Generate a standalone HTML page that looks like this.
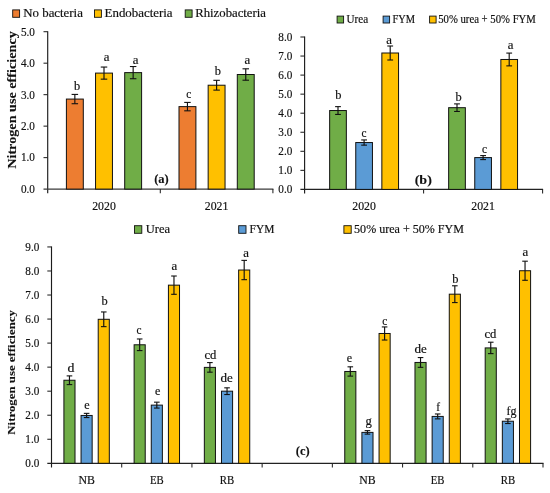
<!DOCTYPE html>
<html><head><meta charset="utf-8"><title>Nitrogen use efficiency</title>
<style>html,body{margin:0;padding:0;background:#fff}svg{display:block}</style></head>
<body>
<svg width="550" height="493" viewBox="0 0 550 493" font-family="'Liberation Serif', serif" font-size="11.6" fill="#111" stroke="#111" stroke-width="0.18">
<rect width="550" height="493" fill="#fff" stroke="none"/>
<line x1="47.70" y1="31.20" x2="47.70" y2="193.30" stroke="#1c1c1c" stroke-width="1.15"/>
<line x1="43.50" y1="189.10" x2="273.40" y2="189.10" stroke="#3a3a3a" stroke-width="1.15"/>
<text x="20.9" y="192.9" font-size="12.9" textLength="14.0" lengthAdjust="spacingAndGlyphs">0.0</text>
<line x1="43.50" y1="157.62" x2="47.70" y2="157.62" stroke="#222" stroke-width="1.05"/>
<text x="20.9" y="161.4" font-size="12.9" textLength="14.0" lengthAdjust="spacingAndGlyphs">1.0</text>
<line x1="43.50" y1="126.14" x2="47.70" y2="126.14" stroke="#222" stroke-width="1.05"/>
<text x="20.9" y="129.9" font-size="12.9" textLength="14.0" lengthAdjust="spacingAndGlyphs">2.0</text>
<line x1="43.50" y1="94.66" x2="47.70" y2="94.66" stroke="#222" stroke-width="1.05"/>
<text x="20.9" y="98.5" font-size="12.9" textLength="14.0" lengthAdjust="spacingAndGlyphs">3.0</text>
<line x1="43.50" y1="63.18" x2="47.70" y2="63.18" stroke="#222" stroke-width="1.05"/>
<text x="20.9" y="67.0" font-size="12.9" textLength="14.0" lengthAdjust="spacingAndGlyphs">4.0</text>
<line x1="43.50" y1="31.70" x2="47.70" y2="31.70" stroke="#222" stroke-width="1.05"/>
<text x="20.9" y="35.5" font-size="12.9" textLength="14.0" lengthAdjust="spacingAndGlyphs">5.0</text>
<line x1="160.30" y1="189.10" x2="160.30" y2="193.30" stroke="#222" stroke-width="1.05"/>
<line x1="272.90" y1="189.10" x2="272.90" y2="193.30" stroke="#222" stroke-width="1.05"/>
<rect x="66.40" y="99.07" width="16.90" height="90.03" fill="#ED7D31" stroke="#111" stroke-width="1.0"/>
<line x1="74.85" y1="94.42" x2="74.85" y2="103.72" stroke="#111" stroke-width="1.15"/>
<line x1="71.60" y1="94.42" x2="78.10" y2="94.42" stroke="#111" stroke-width="1.1"/>
<line x1="71.60" y1="103.72" x2="78.10" y2="103.72" stroke="#111" stroke-width="1.1"/>
<text x="74.1" y="89.5" textLength="6.2" lengthAdjust="spacingAndGlyphs">b</text>
<rect x="95.55" y="73.10" width="16.90" height="116.00" fill="#FFC000" stroke="#111" stroke-width="1.0"/>
<line x1="104.00" y1="67.05" x2="104.00" y2="79.15" stroke="#111" stroke-width="1.15"/>
<line x1="100.75" y1="67.05" x2="107.25" y2="67.05" stroke="#111" stroke-width="1.1"/>
<line x1="100.75" y1="79.15" x2="107.25" y2="79.15" stroke="#111" stroke-width="1.1"/>
<text x="103.7" y="60.5" textLength="5.7" lengthAdjust="spacingAndGlyphs">a</text>
<rect x="124.70" y="72.62" width="16.90" height="116.48" fill="#70AD47" stroke="#111" stroke-width="1.0"/>
<line x1="133.15" y1="66.52" x2="133.15" y2="78.72" stroke="#111" stroke-width="1.15"/>
<line x1="129.90" y1="66.52" x2="136.40" y2="66.52" stroke="#111" stroke-width="1.1"/>
<line x1="129.90" y1="78.72" x2="136.40" y2="78.72" stroke="#111" stroke-width="1.1"/>
<text x="132.7" y="64.0" textLength="5.7" lengthAdjust="spacingAndGlyphs">a</text>
<text x="92.2" y="210.0" font-size="12.0" textLength="23.6" lengthAdjust="spacingAndGlyphs">2020</text>
<rect x="179.00" y="106.62" width="16.90" height="82.48" fill="#ED7D31" stroke="#111" stroke-width="1.0"/>
<line x1="187.45" y1="102.42" x2="187.45" y2="110.82" stroke="#111" stroke-width="1.15"/>
<line x1="184.20" y1="102.42" x2="190.70" y2="102.42" stroke="#111" stroke-width="1.1"/>
<line x1="184.20" y1="110.82" x2="190.70" y2="110.82" stroke="#111" stroke-width="1.1"/>
<text x="186.3" y="97.8" textLength="5.0" lengthAdjust="spacingAndGlyphs">c</text>
<rect x="208.15" y="85.22" width="16.90" height="103.88" fill="#FFC000" stroke="#111" stroke-width="1.0"/>
<line x1="216.60" y1="80.32" x2="216.60" y2="90.12" stroke="#111" stroke-width="1.15"/>
<line x1="213.35" y1="80.32" x2="219.85" y2="80.32" stroke="#111" stroke-width="1.1"/>
<line x1="213.35" y1="90.12" x2="219.85" y2="90.12" stroke="#111" stroke-width="1.1"/>
<text x="214.8" y="74.5" textLength="6.2" lengthAdjust="spacingAndGlyphs">b</text>
<rect x="237.30" y="74.51" width="16.90" height="114.59" fill="#70AD47" stroke="#111" stroke-width="1.0"/>
<line x1="245.75" y1="68.81" x2="245.75" y2="80.21" stroke="#111" stroke-width="1.15"/>
<line x1="242.50" y1="68.81" x2="249.00" y2="68.81" stroke="#111" stroke-width="1.1"/>
<line x1="242.50" y1="80.21" x2="249.00" y2="80.21" stroke="#111" stroke-width="1.1"/>
<text x="244.5" y="63.5" textLength="5.7" lengthAdjust="spacingAndGlyphs">a</text>
<text x="204.8" y="210.0" font-size="12.0" textLength="23.6" lengthAdjust="spacingAndGlyphs">2021</text>
<rect x="12.70" y="9.90" width="6.90" height="7.40" fill="#ED7D31" stroke="#111" stroke-width="0.9"/>
<text x="23.3" y="17.3" textLength="59.6" lengthAdjust="spacingAndGlyphs">No bacteria</text>
<rect x="94.50" y="9.90" width="6.90" height="7.40" fill="#FFC000" stroke="#111" stroke-width="0.9"/>
<text x="104.6" y="17.3" textLength="68.0" lengthAdjust="spacingAndGlyphs">Endobacteria</text>
<rect x="185.20" y="9.90" width="6.90" height="7.40" fill="#70AD47" stroke="#111" stroke-width="0.9"/>
<text x="195.2" y="17.3" textLength="70.8" lengthAdjust="spacingAndGlyphs">Rhizobacteria</text>
<text x="16.4" y="100.0" font-size="13" text-anchor="middle" font-weight="bold" stroke-width="0.1" textLength="137.6" lengthAdjust="spacingAndGlyphs" transform="rotate(-90 16.4 100.0)">Nitrogen use efficiency</text>
<text x="154.2" y="183.2" font-size="13" font-weight="bold" stroke-width="0.1" textLength="14.6" lengthAdjust="spacingAndGlyphs">(a)</text>
<line x1="304.60" y1="36.50" x2="304.60" y2="193.60" stroke="#1c1c1c" stroke-width="1.15"/>
<line x1="300.40" y1="189.40" x2="543.10" y2="189.40" stroke="#222" stroke-width="1.15"/>
<text x="278.3" y="193.1" font-size="12.9" textLength="14.0" lengthAdjust="spacingAndGlyphs">0.0</text>
<line x1="300.40" y1="170.35" x2="304.60" y2="170.35" stroke="#222" stroke-width="1.05"/>
<text x="278.3" y="174.0" font-size="12.9" textLength="14.0" lengthAdjust="spacingAndGlyphs">1.0</text>
<line x1="300.40" y1="151.30" x2="304.60" y2="151.30" stroke="#222" stroke-width="1.05"/>
<text x="278.3" y="155.0" font-size="12.9" textLength="14.0" lengthAdjust="spacingAndGlyphs">2.0</text>
<line x1="300.40" y1="132.25" x2="304.60" y2="132.25" stroke="#222" stroke-width="1.05"/>
<text x="278.3" y="135.9" font-size="12.9" textLength="14.0" lengthAdjust="spacingAndGlyphs">3.0</text>
<line x1="300.40" y1="113.20" x2="304.60" y2="113.20" stroke="#222" stroke-width="1.05"/>
<text x="278.3" y="116.9" font-size="12.9" textLength="14.0" lengthAdjust="spacingAndGlyphs">4.0</text>
<line x1="300.40" y1="94.15" x2="304.60" y2="94.15" stroke="#222" stroke-width="1.05"/>
<text x="278.3" y="97.9" font-size="12.9" textLength="14.0" lengthAdjust="spacingAndGlyphs">5.0</text>
<line x1="300.40" y1="75.10" x2="304.60" y2="75.10" stroke="#222" stroke-width="1.05"/>
<text x="278.3" y="78.8" font-size="12.9" textLength="14.0" lengthAdjust="spacingAndGlyphs">6.0</text>
<line x1="300.40" y1="56.05" x2="304.60" y2="56.05" stroke="#222" stroke-width="1.05"/>
<text x="278.3" y="59.8" font-size="12.9" textLength="14.0" lengthAdjust="spacingAndGlyphs">7.0</text>
<line x1="300.40" y1="37.00" x2="304.60" y2="37.00" stroke="#222" stroke-width="1.05"/>
<text x="278.3" y="40.7" font-size="12.9" textLength="14.0" lengthAdjust="spacingAndGlyphs">8.0</text>
<line x1="423.60" y1="189.40" x2="423.60" y2="193.60" stroke="#222" stroke-width="1.05"/>
<line x1="542.60" y1="189.40" x2="542.60" y2="193.60" stroke="#222" stroke-width="1.05"/>
<rect x="329.65" y="110.53" width="16.70" height="78.87" fill="#70AD47" stroke="#111" stroke-width="1.0"/>
<line x1="338.00" y1="106.63" x2="338.00" y2="114.43" stroke="#111" stroke-width="1.15"/>
<line x1="335.10" y1="106.63" x2="340.90" y2="106.63" stroke="#111" stroke-width="1.1"/>
<line x1="335.10" y1="114.43" x2="340.90" y2="114.43" stroke="#111" stroke-width="1.1"/>
<text x="335.3" y="99.3" textLength="6.2" lengthAdjust="spacingAndGlyphs">b</text>
<rect x="355.75" y="142.54" width="16.70" height="46.86" fill="#5B9BD5" stroke="#111" stroke-width="1.0"/>
<line x1="364.10" y1="139.94" x2="364.10" y2="145.14" stroke="#111" stroke-width="1.15"/>
<line x1="361.20" y1="139.94" x2="367.00" y2="139.94" stroke="#111" stroke-width="1.1"/>
<line x1="361.20" y1="145.14" x2="367.00" y2="145.14" stroke="#111" stroke-width="1.1"/>
<text x="361.4" y="136.6" textLength="5.0" lengthAdjust="spacingAndGlyphs">c</text>
<rect x="381.85" y="53.00" width="16.70" height="136.40" fill="#FFC000" stroke="#111" stroke-width="1.0"/>
<line x1="390.20" y1="46.00" x2="390.20" y2="60.00" stroke="#111" stroke-width="1.15"/>
<line x1="387.30" y1="46.00" x2="393.10" y2="46.00" stroke="#111" stroke-width="1.1"/>
<line x1="387.30" y1="60.00" x2="393.10" y2="60.00" stroke="#111" stroke-width="1.1"/>
<text x="386.2" y="44.4" textLength="5.7" lengthAdjust="spacingAndGlyphs">a</text>
<text x="352.3" y="210.0" font-size="12.0" textLength="23.6" lengthAdjust="spacingAndGlyphs">2020</text>
<rect x="448.65" y="107.68" width="16.70" height="81.72" fill="#70AD47" stroke="#111" stroke-width="1.0"/>
<line x1="457.00" y1="103.88" x2="457.00" y2="111.48" stroke="#111" stroke-width="1.15"/>
<line x1="454.10" y1="103.88" x2="459.90" y2="103.88" stroke="#111" stroke-width="1.1"/>
<line x1="454.10" y1="111.48" x2="459.90" y2="111.48" stroke="#111" stroke-width="1.1"/>
<text x="455.6" y="101.1" textLength="6.2" lengthAdjust="spacingAndGlyphs">b</text>
<rect x="474.75" y="157.59" width="16.70" height="31.81" fill="#5B9BD5" stroke="#111" stroke-width="1.0"/>
<line x1="483.10" y1="155.59" x2="483.10" y2="159.59" stroke="#111" stroke-width="1.15"/>
<line x1="480.20" y1="155.59" x2="486.00" y2="155.59" stroke="#111" stroke-width="1.1"/>
<line x1="480.20" y1="159.59" x2="486.00" y2="159.59" stroke="#111" stroke-width="1.1"/>
<text x="482.1" y="153.4" textLength="5.0" lengthAdjust="spacingAndGlyphs">c</text>
<rect x="500.85" y="59.48" width="16.70" height="129.92" fill="#FFC000" stroke="#111" stroke-width="1.0"/>
<line x1="509.20" y1="53.08" x2="509.20" y2="65.88" stroke="#111" stroke-width="1.15"/>
<line x1="506.30" y1="53.08" x2="512.10" y2="53.08" stroke="#111" stroke-width="1.1"/>
<line x1="506.30" y1="65.88" x2="512.10" y2="65.88" stroke="#111" stroke-width="1.1"/>
<text x="507.7" y="48.8" textLength="5.7" lengthAdjust="spacingAndGlyphs">a</text>
<text x="471.3" y="210.0" font-size="12.0" textLength="23.6" lengthAdjust="spacingAndGlyphs">2021</text>
<rect x="337.10" y="16.10" width="6.50" height="6.90" fill="#70AD47" stroke="#111" stroke-width="0.9"/>
<text x="346.6" y="22.9" textLength="21.6" lengthAdjust="spacingAndGlyphs">Urea</text>
<rect x="383.10" y="16.10" width="6.50" height="6.90" fill="#5B9BD5" stroke="#111" stroke-width="0.9"/>
<text x="392.4" y="22.9" textLength="22.6" lengthAdjust="spacingAndGlyphs">FYM</text>
<rect x="429.60" y="16.10" width="6.50" height="6.90" fill="#FFC000" stroke="#111" stroke-width="0.9"/>
<text x="438.2" y="22.9" textLength="97.7" lengthAdjust="spacingAndGlyphs">50% urea + 50% FYM</text>
<text x="414.7" y="184.2" font-size="13" font-weight="bold" stroke-width="0.1" textLength="17.2" lengthAdjust="spacingAndGlyphs">(b)</text>
<line x1="51.50" y1="246.44" x2="51.50" y2="467.50" stroke="#1c1c1c" stroke-width="1.15"/>
<line x1="47.30" y1="463.30" x2="543.50" y2="463.30" stroke="#222" stroke-width="1.15"/>
<text x="25.3" y="467.0" font-size="12.9" textLength="14.0" lengthAdjust="spacingAndGlyphs">0.0</text>
<line x1="47.30" y1="439.26" x2="51.50" y2="439.26" stroke="#222" stroke-width="1.05"/>
<text x="25.3" y="443.0" font-size="12.9" textLength="14.0" lengthAdjust="spacingAndGlyphs">1.0</text>
<line x1="47.30" y1="415.22" x2="51.50" y2="415.22" stroke="#222" stroke-width="1.05"/>
<text x="25.3" y="418.9" font-size="12.9" textLength="14.0" lengthAdjust="spacingAndGlyphs">2.0</text>
<line x1="47.30" y1="391.18" x2="51.50" y2="391.18" stroke="#222" stroke-width="1.05"/>
<text x="25.3" y="394.9" font-size="12.9" textLength="14.0" lengthAdjust="spacingAndGlyphs">3.0</text>
<line x1="47.30" y1="367.14" x2="51.50" y2="367.14" stroke="#222" stroke-width="1.05"/>
<text x="25.3" y="370.8" font-size="12.9" textLength="14.0" lengthAdjust="spacingAndGlyphs">4.0</text>
<line x1="47.30" y1="343.10" x2="51.50" y2="343.10" stroke="#222" stroke-width="1.05"/>
<text x="25.3" y="346.8" font-size="12.9" textLength="14.0" lengthAdjust="spacingAndGlyphs">5.0</text>
<line x1="47.30" y1="319.06" x2="51.50" y2="319.06" stroke="#222" stroke-width="1.05"/>
<text x="25.3" y="322.8" font-size="12.9" textLength="14.0" lengthAdjust="spacingAndGlyphs">6.0</text>
<line x1="47.30" y1="295.02" x2="51.50" y2="295.02" stroke="#222" stroke-width="1.05"/>
<text x="25.3" y="298.7" font-size="12.9" textLength="14.0" lengthAdjust="spacingAndGlyphs">7.0</text>
<line x1="47.30" y1="270.98" x2="51.50" y2="270.98" stroke="#222" stroke-width="1.05"/>
<text x="25.3" y="274.7" font-size="12.9" textLength="14.0" lengthAdjust="spacingAndGlyphs">8.0</text>
<line x1="47.30" y1="246.94" x2="51.50" y2="246.94" stroke="#222" stroke-width="1.05"/>
<text x="25.3" y="250.6" font-size="12.9" textLength="14.0" lengthAdjust="spacingAndGlyphs">9.0</text>
<line x1="121.71" y1="463.30" x2="121.71" y2="467.50" stroke="#222" stroke-width="1.05"/>
<line x1="191.93" y1="463.30" x2="191.93" y2="467.50" stroke="#222" stroke-width="1.05"/>
<line x1="262.14" y1="463.30" x2="262.14" y2="467.50" stroke="#222" stroke-width="1.05"/>
<line x1="332.36" y1="463.30" x2="332.36" y2="467.50" stroke="#222" stroke-width="1.05"/>
<line x1="402.57" y1="463.30" x2="402.57" y2="467.50" stroke="#222" stroke-width="1.05"/>
<line x1="472.79" y1="463.30" x2="472.79" y2="467.50" stroke="#222" stroke-width="1.05"/>
<line x1="543.00" y1="463.30" x2="543.00" y2="467.50" stroke="#222" stroke-width="1.05"/>
<rect x="63.91" y="380.24" width="11.10" height="83.06" fill="#70AD47" stroke="#111" stroke-width="1.0"/>
<line x1="69.46" y1="375.89" x2="69.46" y2="384.59" stroke="#111" stroke-width="1.15"/>
<line x1="66.66" y1="375.89" x2="72.26" y2="375.89" stroke="#111" stroke-width="1.1"/>
<line x1="66.66" y1="384.59" x2="72.26" y2="384.59" stroke="#111" stroke-width="1.1"/>
<text x="67.5" y="371.5" textLength="6.9" lengthAdjust="spacingAndGlyphs">d</text>
<rect x="81.06" y="415.46" width="11.10" height="47.84" fill="#5B9BD5" stroke="#111" stroke-width="1.0"/>
<line x1="86.61" y1="413.36" x2="86.61" y2="417.56" stroke="#111" stroke-width="1.15"/>
<line x1="83.81" y1="413.36" x2="89.41" y2="413.36" stroke="#111" stroke-width="1.1"/>
<line x1="83.81" y1="417.56" x2="89.41" y2="417.56" stroke="#111" stroke-width="1.1"/>
<text x="84.2" y="408.8" textLength="5.4" lengthAdjust="spacingAndGlyphs">e</text>
<rect x="98.21" y="319.30" width="11.10" height="144.00" fill="#FFC000" stroke="#111" stroke-width="1.0"/>
<line x1="103.76" y1="311.95" x2="103.76" y2="326.65" stroke="#111" stroke-width="1.15"/>
<line x1="100.96" y1="311.95" x2="106.56" y2="311.95" stroke="#111" stroke-width="1.1"/>
<line x1="100.96" y1="326.65" x2="106.56" y2="326.65" stroke="#111" stroke-width="1.1"/>
<text x="101.6" y="305.1" textLength="6.2" lengthAdjust="spacingAndGlyphs">b</text>
<text x="78.4" y="483.9" textLength="16.4" lengthAdjust="spacingAndGlyphs">NB</text>
<rect x="134.12" y="344.78" width="11.10" height="118.52" fill="#70AD47" stroke="#111" stroke-width="1.0"/>
<line x1="139.67" y1="338.98" x2="139.67" y2="350.58" stroke="#111" stroke-width="1.15"/>
<line x1="136.87" y1="338.98" x2="142.47" y2="338.98" stroke="#111" stroke-width="1.1"/>
<line x1="136.87" y1="350.58" x2="142.47" y2="350.58" stroke="#111" stroke-width="1.1"/>
<text x="136.5" y="333.5" textLength="5.0" lengthAdjust="spacingAndGlyphs">c</text>
<rect x="151.27" y="405.12" width="11.10" height="58.18" fill="#5B9BD5" stroke="#111" stroke-width="1.0"/>
<line x1="156.82" y1="402.17" x2="156.82" y2="408.07" stroke="#111" stroke-width="1.15"/>
<line x1="154.02" y1="402.17" x2="159.62" y2="402.17" stroke="#111" stroke-width="1.1"/>
<line x1="154.02" y1="408.07" x2="159.62" y2="408.07" stroke="#111" stroke-width="1.1"/>
<text x="155.0" y="395.2" textLength="5.4" lengthAdjust="spacingAndGlyphs">e</text>
<rect x="168.42" y="285.16" width="11.10" height="178.14" fill="#FFC000" stroke="#111" stroke-width="1.0"/>
<line x1="173.97" y1="276.01" x2="173.97" y2="294.31" stroke="#111" stroke-width="1.15"/>
<line x1="171.17" y1="276.01" x2="176.77" y2="276.01" stroke="#111" stroke-width="1.1"/>
<line x1="171.17" y1="294.31" x2="176.77" y2="294.31" stroke="#111" stroke-width="1.1"/>
<text x="171.5" y="269.9" textLength="5.7" lengthAdjust="spacingAndGlyphs">a</text>
<text x="150.0" y="483.9" textLength="13.7" lengthAdjust="spacingAndGlyphs">EB</text>
<rect x="204.34" y="367.38" width="11.10" height="95.92" fill="#70AD47" stroke="#111" stroke-width="1.0"/>
<line x1="209.89" y1="362.58" x2="209.89" y2="372.18" stroke="#111" stroke-width="1.15"/>
<line x1="207.09" y1="362.58" x2="212.69" y2="362.58" stroke="#111" stroke-width="1.1"/>
<line x1="207.09" y1="372.18" x2="212.69" y2="372.18" stroke="#111" stroke-width="1.1"/>
<text x="204.4" y="358.8" textLength="11.9" lengthAdjust="spacingAndGlyphs">cd</text>
<rect x="221.49" y="391.18" width="11.10" height="72.12" fill="#5B9BD5" stroke="#111" stroke-width="1.0"/>
<line x1="227.04" y1="387.83" x2="227.04" y2="394.53" stroke="#111" stroke-width="1.15"/>
<line x1="224.24" y1="387.83" x2="229.84" y2="387.83" stroke="#111" stroke-width="1.1"/>
<line x1="224.24" y1="394.53" x2="229.84" y2="394.53" stroke="#111" stroke-width="1.1"/>
<text x="220.5" y="381.6" textLength="12.3" lengthAdjust="spacingAndGlyphs">de</text>
<rect x="238.64" y="270.02" width="11.10" height="193.28" fill="#FFC000" stroke="#111" stroke-width="1.0"/>
<line x1="244.19" y1="260.37" x2="244.19" y2="279.67" stroke="#111" stroke-width="1.15"/>
<line x1="241.39" y1="260.37" x2="246.99" y2="260.37" stroke="#111" stroke-width="1.1"/>
<line x1="241.39" y1="279.67" x2="246.99" y2="279.67" stroke="#111" stroke-width="1.1"/>
<text x="243.2" y="256.7" textLength="5.7" lengthAdjust="spacingAndGlyphs">a</text>
<text x="219.8" y="483.9" textLength="14.4" lengthAdjust="spacingAndGlyphs">RB</text>
<rect x="344.76" y="371.47" width="11.10" height="91.83" fill="#70AD47" stroke="#111" stroke-width="1.0"/>
<line x1="350.31" y1="366.82" x2="350.31" y2="376.12" stroke="#111" stroke-width="1.15"/>
<line x1="347.51" y1="366.82" x2="353.11" y2="366.82" stroke="#111" stroke-width="1.1"/>
<line x1="347.51" y1="376.12" x2="353.11" y2="376.12" stroke="#111" stroke-width="1.1"/>
<text x="346.8" y="361.5" textLength="5.4" lengthAdjust="spacingAndGlyphs">e</text>
<rect x="361.91" y="432.38" width="11.10" height="30.92" fill="#5B9BD5" stroke="#111" stroke-width="1.0"/>
<line x1="367.46" y1="430.63" x2="367.46" y2="434.13" stroke="#111" stroke-width="1.15"/>
<line x1="364.66" y1="430.63" x2="370.26" y2="430.63" stroke="#111" stroke-width="1.1"/>
<line x1="364.66" y1="434.13" x2="370.26" y2="434.13" stroke="#111" stroke-width="1.1"/>
<text x="365.4" y="424.7" textLength="6.3" lengthAdjust="spacingAndGlyphs">g</text>
<rect x="379.06" y="333.48" width="11.10" height="129.82" fill="#FFC000" stroke="#111" stroke-width="1.0"/>
<line x1="384.61" y1="326.93" x2="384.61" y2="340.03" stroke="#111" stroke-width="1.15"/>
<line x1="381.81" y1="326.93" x2="387.41" y2="326.93" stroke="#111" stroke-width="1.1"/>
<line x1="381.81" y1="340.03" x2="387.41" y2="340.03" stroke="#111" stroke-width="1.1"/>
<text x="382.2" y="324.6" textLength="5.0" lengthAdjust="spacingAndGlyphs">c</text>
<text x="359.3" y="483.9" textLength="16.4" lengthAdjust="spacingAndGlyphs">NB</text>
<rect x="414.98" y="362.45" width="11.10" height="100.85" fill="#70AD47" stroke="#111" stroke-width="1.0"/>
<line x1="420.53" y1="357.55" x2="420.53" y2="367.35" stroke="#111" stroke-width="1.15"/>
<line x1="417.73" y1="357.55" x2="423.33" y2="357.55" stroke="#111" stroke-width="1.1"/>
<line x1="417.73" y1="367.35" x2="423.33" y2="367.35" stroke="#111" stroke-width="1.1"/>
<text x="414.5" y="352.5" textLength="12.3" lengthAdjust="spacingAndGlyphs">de</text>
<rect x="432.13" y="416.42" width="11.10" height="46.88" fill="#5B9BD5" stroke="#111" stroke-width="1.0"/>
<line x1="437.68" y1="413.97" x2="437.68" y2="418.87" stroke="#111" stroke-width="1.15"/>
<line x1="434.88" y1="413.97" x2="440.48" y2="413.97" stroke="#111" stroke-width="1.1"/>
<line x1="434.88" y1="418.87" x2="440.48" y2="418.87" stroke="#111" stroke-width="1.1"/>
<text x="436.3" y="410.5" textLength="3.8" lengthAdjust="spacingAndGlyphs">f</text>
<rect x="449.28" y="294.18" width="11.10" height="169.12" fill="#FFC000" stroke="#111" stroke-width="1.0"/>
<line x1="454.83" y1="285.78" x2="454.83" y2="302.58" stroke="#111" stroke-width="1.15"/>
<line x1="452.03" y1="285.78" x2="457.63" y2="285.78" stroke="#111" stroke-width="1.1"/>
<line x1="452.03" y1="302.58" x2="457.63" y2="302.58" stroke="#111" stroke-width="1.1"/>
<text x="452.2" y="283.0" textLength="6.2" lengthAdjust="spacingAndGlyphs">b</text>
<text x="430.8" y="483.9" textLength="13.7" lengthAdjust="spacingAndGlyphs">EB</text>
<rect x="485.19" y="347.91" width="11.10" height="115.39" fill="#70AD47" stroke="#111" stroke-width="1.0"/>
<line x1="490.74" y1="342.21" x2="490.74" y2="353.61" stroke="#111" stroke-width="1.15"/>
<line x1="487.94" y1="342.21" x2="493.54" y2="342.21" stroke="#111" stroke-width="1.1"/>
<line x1="487.94" y1="353.61" x2="493.54" y2="353.61" stroke="#111" stroke-width="1.1"/>
<text x="484.4" y="338.2" textLength="11.9" lengthAdjust="spacingAndGlyphs">cd</text>
<rect x="502.34" y="421.23" width="11.10" height="42.07" fill="#5B9BD5" stroke="#111" stroke-width="1.0"/>
<line x1="507.89" y1="418.93" x2="507.89" y2="423.53" stroke="#111" stroke-width="1.15"/>
<line x1="505.09" y1="418.93" x2="510.69" y2="418.93" stroke="#111" stroke-width="1.1"/>
<line x1="505.09" y1="423.53" x2="510.69" y2="423.53" stroke="#111" stroke-width="1.1"/>
<text x="506.5" y="414.5" textLength="10.0" lengthAdjust="spacingAndGlyphs">fg</text>
<rect x="519.49" y="270.74" width="11.10" height="192.56" fill="#FFC000" stroke="#111" stroke-width="1.0"/>
<line x1="525.04" y1="261.19" x2="525.04" y2="280.29" stroke="#111" stroke-width="1.15"/>
<line x1="522.24" y1="261.19" x2="527.84" y2="261.19" stroke="#111" stroke-width="1.1"/>
<line x1="522.24" y1="280.29" x2="527.84" y2="280.29" stroke="#111" stroke-width="1.1"/>
<text x="522.5" y="255.5" textLength="5.7" lengthAdjust="spacingAndGlyphs">a</text>
<text x="500.7" y="483.9" textLength="14.4" lengthAdjust="spacingAndGlyphs">RB</text>
<rect x="134.50" y="225.70" width="7.30" height="7.60" fill="#70AD47" stroke="#111" stroke-width="0.9"/>
<text x="145.7" y="233.2" font-size="12" textLength="24.3" lengthAdjust="spacingAndGlyphs">Urea</text>
<rect x="238.70" y="225.70" width="7.30" height="7.60" fill="#5B9BD5" stroke="#111" stroke-width="0.9"/>
<text x="249.6" y="233.2" font-size="12" textLength="24.8" lengthAdjust="spacingAndGlyphs">FYM</text>
<rect x="343.90" y="225.70" width="7.30" height="7.60" fill="#FFC000" stroke="#111" stroke-width="0.9"/>
<text x="354.1" y="233.2" font-size="12" textLength="109.9" lengthAdjust="spacingAndGlyphs">50% urea + 50% FYM</text>
<text x="15.2" y="372.4" font-size="11.2" text-anchor="middle" font-weight="bold" stroke-width="0.1" textLength="124.6" lengthAdjust="spacingAndGlyphs" transform="rotate(-90 15.2 372.4)">Nitrogen use efficiency</text>
<text x="295.8" y="454.5" font-size="13" font-weight="bold" stroke-width="0.1" textLength="13.9" lengthAdjust="spacingAndGlyphs">(c)</text>
</svg>
</body></html>
